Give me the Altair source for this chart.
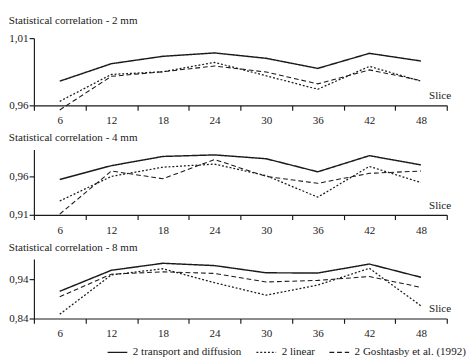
import altair as alt
import pandas as pd

slices = [6, 12, 18, 24, 30, 36, 42, 48]
series_names = ["2 transport and diffusion", "2 linear", "2 Goshtasby et al. (1992)"]

p2_transport = [0.978, 0.991, 0.9965, 0.999, 0.995, 0.9875, 0.9987, 0.993]
p2_linear = [0.963, 0.983, 0.985, 0.992, 0.982, 0.972, 0.989, 0.978]
p2_gosh = [0.9566, 0.9816, 0.985, 0.9893, 0.9848, 0.976, 0.9864, 0.9785]

p4_transport = [0.956, 0.974, 0.986, 0.988, 0.983, 0.966, 0.987, 0.975]
p4_linear = [0.928, 0.960, 0.972, 0.976, 0.961, 0.933, 0.973, 0.952]
p4_gosh = [0.911, 0.967, 0.957, 0.982, 0.960, 0.951, 0.964, 0.967]

p8_transport = [0.910, 0.964, 0.982, 0.976, 0.9575, 0.957, 0.980, 0.946]
p8_linear = [0.851, 0.952, 0.968, 0.932, 0.900, 0.926, 0.969, 0.8725]
p8_gosh = [0.896, 0.954, 0.960, 0.956, 0.934, 0.938, 0.948, 0.920]

titles = ["Statistical correlation - 2 mm", "Statistical correlation - 4 mm",
          "Statistical correlation - 8 mm"]
domains = [[0.96, 1.01], [0.91, 0.995], [0.84, 0.993]]
tick_values = [[0.96, 1.01], [0.91, 0.96], [0.84, 0.94]]

FONT = "Liberation Serif"
INK = "#1a1a1a"
W = 430
heights = [70, 68, 62]


def make_df(vals):
    rows = []
    for name, ys in zip(series_names, vals):
        for s, v in zip(slices, ys):
            rows.append({"slice": s, "value": v, "series": name})
    return pd.DataFrame(rows)


def panel(vals, title, domain, ticks, h, show_legend):
    df = make_df(vals)
    legend = None
    if show_legend:
        legend = alt.Legend(
            title=None, orient="none", direction="horizontal",
            legendX=76, legendY=h + 24,
            symbolType="stroke", symbolSize=420, symbolStrokeWidth=1.1,
            symbolStrokeColor=INK, labelFont=FONT, labelFontSize=11.5,
            labelColor=INK, columnPadding=12, labelOffset=5,
        )
    return alt.Chart(df).mark_line(color=INK, clip=False).encode(
        x=alt.X(
            "slice:O",
            scale=alt.Scale(type="band", paddingInner=0, paddingOuter=0),
            axis=alt.Axis(
                title="Slice", tickBand="extent", labelAngle=0,
                tickSize=5, tickColor=INK, tickWidth=1.2,
                labelPadding=5, titleX=W + 4, titleY=-7,
                titleAlign="right", titleBaseline="alphabetic",
                titleFont=FONT, titleFontSize=11.5, titleFontWeight="normal",
                titleColor=INK,
            ),
        ),
        y=alt.Y(
            "value:Q",
            scale=alt.Scale(domain=domain, nice=False, zero=False),
            axis=alt.Axis(
                title=None, values=ticks, tickSize=5, labelPadding=1,
                tickColor=INK, tickWidth=1.2,
                labelExpr="replace(format(datum.value, '.2f'), '.', ',')",
            ),
        ),
        strokeDash=alt.StrokeDash(
            "series:N",
            scale=alt.Scale(domain=series_names, range=[[1, 0], [2, 2], [5, 3]]),
            legend=legend,
        ),
        strokeWidth=alt.StrokeWidth(
            "series:N",
            scale=alt.Scale(domain=series_names, range=[1.5, 1.1, 1.1]),
            legend=None,
        ),
    ).properties(
        width=W, height=h,
        title=alt.TitleParams(title, anchor="start", frame="bounds",
                              font=FONT, fontSize=11.5, fontWeight="normal",
                              color=INK, offset=6),
    )


panels = [
    panel([p2_transport, p2_linear, p2_gosh], titles[0], domains[0], tick_values[0], heights[0], False),
    panel([p4_transport, p4_linear, p4_gosh], titles[1], domains[1], tick_values[1], heights[1], False),
    panel([p8_transport, p8_linear, p8_gosh], titles[2], domains[2], tick_values[2], heights[2], True),
]

chart = alt.vconcat(*panels, spacing=6).resolve_scale(
    y="independent"
).resolve_legend(
    strokeDash="independent", strokeWidth="independent"
).properties(padding=0).configure_view(stroke=None).configure_axis(
    labelFont=FONT, labelFontSize=11.5, labelColor=INK,
    domainColor=INK, domainWidth=1.2, grid=False,
)

chart.save("out.html", embed_options={"renderer": "svg", "actions": False})
